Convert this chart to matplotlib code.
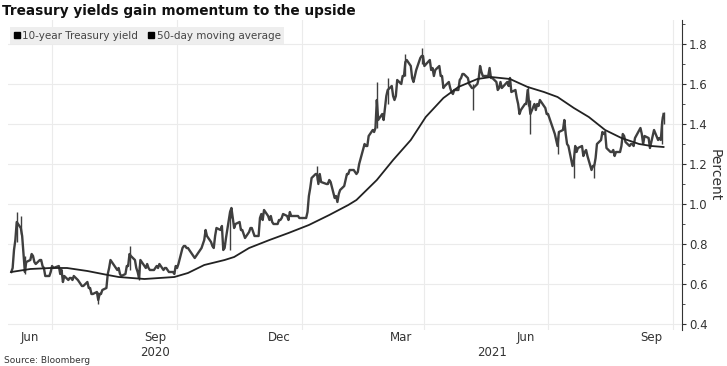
import matplotlib
matplotlib.use("Agg")
import matplotlib.pyplot as plt
from matplotlib.lines import Line2D
from matplotlib.ticker import MultipleLocator, FormatStrFormatter
import pandas as pd

# bond market holidays inside the window
holidays = [
    "2020-07-03", "2020-09-07", "2020-10-12", "2020-11-11", "2020-11-26",
    "2020-12-25", "2021-01-01", "2021-01-18", "2021-02-15", "2021-04-02",
    "2021-05-31", "2021-07-05", "2021-09-06",
]

# 10-year Treasury yield, daily close (%)
close_2020 = [
    # Jun
    0.66, 0.68, 0.77, 0.82, 0.91, 0.88, 0.84, 0.75, 0.66, 0.71, 0.72,
    0.75, 0.74, 0.71, 0.70, 0.72, 0.72, 0.69, 0.68, 0.64, 0.64, 0.66,
    # Jul
    0.69, 0.68, 0.69, 0.65, 0.67, 0.61, 0.64, 0.62, 0.63, 0.63, 0.62,
    0.64, 0.62, 0.61, 0.60, 0.59, 0.59, 0.61, 0.58, 0.58, 0.55, 0.55,
    # Aug
    0.56, 0.52, 0.55, 0.55, 0.57, 0.58, 0.65, 0.68, 0.72, 0.71, 0.68,
    0.67, 0.68, 0.65, 0.64, 0.65, 0.69, 0.69, 0.75, 0.74, 0.72,
    # Sep
    0.68, 0.66, 0.63, 0.72, 0.68, 0.70, 0.68, 0.67, 0.67, 0.68, 0.69,
    0.68, 0.70, 0.67, 0.68, 0.68, 0.67, 0.66, 0.66, 0.65, 0.69,
    # Oct
    0.68, 0.70, 0.78, 0.79, 0.79, 0.78, 0.78, 0.74, 0.73, 0.74, 0.75,
    0.78, 0.80, 0.82, 0.87, 0.84, 0.81, 0.79, 0.78, 0.84, 0.88,
    # Nov
    0.87, 0.89, 0.77, 0.78, 0.83, 0.96, 0.98, 0.88, 0.90, 0.91,
    0.87, 0.87, 0.85, 0.83, 0.86, 0.88, 0.88, 0.84, 0.84,
    # Dec
    0.93, 0.95, 0.92, 0.97, 0.94, 0.92, 0.94, 0.91, 0.90, 0.90, 0.92,
    0.92, 0.93, 0.95, 0.94, 0.92, 0.96, 0.94, 0.94, 0.94, 0.93, 0.93,
]
close_2021 = [
    # Jan
    0.93, 0.96, 1.04, 1.08, 1.13, 1.15, 1.15, 1.10, 1.15, 1.11,
    1.10, 1.10, 1.12, 1.11, 1.03, 1.04, 1.01, 1.05, 1.07,
    # Feb
    1.09, 1.12, 1.15, 1.15, 1.17, 1.17, 1.16, 1.15, 1.16, 1.20,
    1.30, 1.29, 1.29, 1.34, 1.37, 1.36, 1.38, 1.52, 1.42,
    # Mar
    1.45, 1.42, 1.48, 1.54, 1.57, 1.59, 1.54, 1.52, 1.54, 1.62, 1.60, 1.64,
    1.64, 1.71, 1.72, 1.69, 1.63, 1.61, 1.64, 1.67, 1.73, 1.74, 1.74,
    # Apr
    1.69, 1.72, 1.67, 1.68, 1.64, 1.67, 1.69, 1.64, 1.64, 1.58, 1.59,
    1.61, 1.58, 1.56, 1.55, 1.57, 1.57, 1.62, 1.63, 1.65, 1.65,
    # May
    1.63, 1.60, 1.59, 1.58, 1.58, 1.60, 1.63, 1.69, 1.66, 1.64,
    1.64, 1.64, 1.68, 1.63, 1.63, 1.61, 1.57, 1.58, 1.61, 1.58,
    # Jun
    1.61, 1.59, 1.63, 1.56, 1.57, 1.53, 1.50, 1.45, 1.47, 1.50, 1.50,
    1.57, 1.51, 1.45, 1.50, 1.47, 1.50, 1.49, 1.52, 1.49, 1.48, 1.45,
    # Jul
    1.45, 1.43, 1.35, 1.32, 1.29, 1.36, 1.37, 1.42, 1.35, 1.30, 1.29,
    1.19, 1.22, 1.29, 1.26, 1.28, 1.29, 1.24, 1.26, 1.27, 1.24,
    # Aug
    1.17, 1.19, 1.19, 1.23, 1.30, 1.32, 1.36, 1.35, 1.36, 1.28, 1.26,
    1.26, 1.27, 1.24, 1.26, 1.26, 1.29, 1.35, 1.34, 1.31, 1.29, 1.30,
    # Sep
    1.30, 1.29, 1.33, 1.38, 1.35, 1.30, 1.34, 1.33, 1.28,
    1.31, 1.34, 1.37, 1.32, 1.33, 1.32, 1.41, 1.45,
]

# days with wide intraday ranges
wick_dates = [
    "2020-06-05", "2020-06-08", "2020-06-11", "2020-08-04", "2020-08-27",
    "2020-09-03", "2020-11-09", "2020-11-10", "2021-01-12", "2021-02-25",
    "2021-03-05", "2021-03-18", "2021-03-30", "2021-05-07", "2021-06-16",
    "2021-06-18", "2021-07-08", "2021-07-20", "2021-08-04", "2021-09-23",
    "2021-09-24",
]
wick_low = [
    0.81, 0.85, 0.65, 0.50, 0.67, 0.62, 0.77, 0.93, 1.12, 1.38,
    1.50, 1.64, 1.70, 1.47, 1.49, 1.35, 1.25, 1.13, 1.13, 1.30, 1.40,
]
wick_high = [
    0.96, 0.94, 0.74, 0.56, 0.79, 0.69, 0.97, 0.98, 1.19, 1.61,
    1.63, 1.75, 1.78, 1.60, 1.59, 1.52, 1.34, 1.24, 1.19, 1.44, 1.46,
]

# 50-day moving average
ma_dates = [
    "2020-06-01", "2020-06-15", "2020-06-30", "2020-07-12", "2020-07-27",
    "2020-08-11", "2020-08-19", "2020-09-07", "2020-09-29", "2020-10-09",
    "2020-10-21", "2020-11-05", "2020-11-12", "2020-11-23", "2020-12-08",
    "2020-12-22", "2021-01-06", "2021-01-21", "2021-02-04", "2021-02-10",
    "2021-02-25", "2021-03-09", "2021-03-22", "2021-04-02", "2021-04-15",
    "2021-04-26", "2021-05-10", "2021-05-20", "2021-06-03", "2021-06-16",
    "2021-06-28", "2021-07-08", "2021-07-20", "2021-07-31", "2021-08-12",
    "2021-08-24", "2021-09-06", "2021-09-15", "2021-09-24",
]
ma_values = [
    0.660, 0.675, 0.680, 0.680, 0.665, 0.645, 0.635, 0.625, 0.635, 0.655,
    0.695, 0.720, 0.735, 0.780, 0.820, 0.855, 0.895, 0.945, 0.995, 1.020,
    1.120, 1.220, 1.320, 1.435, 1.530, 1.585, 1.625, 1.635, 1.625, 1.585,
    1.560, 1.535, 1.480, 1.435, 1.370, 1.330, 1.300, 1.290, 1.285,
]

month_labels = ["Jun", "Sep", "Dec", "Mar", "Jun", "Sep"]
month_label_dates = ["2020-06-15", "2020-09-15", "2020-12-15",
                     "2021-03-15", "2021-06-15", "2021-09-15"]
quarter_starts = ["2020-07-01", "2020-10-01", "2021-01-01",
                  "2021-04-01", "2021-07-01", "2021-10-01"]
year_labels = ["2020", "2021"]
y_ticks = [0.4, 0.6, 0.8, 1.0, 1.2, 1.4, 1.6, 1.8]

x_start = pd.Timestamp("2020-05-29 14:00")
x_end = pd.Timestamp("2021-10-07 14:00")

days = pd.bdate_range("2020-06-01", "2021-09-24", freq="C",
                      holidays=pd.to_datetime(holidays))
closes = close_2020 + close_2021
assert len(days) == len(closes), (len(days), len(closes))

fig = plt.figure(figsize=(7.27, 3.66), dpi=100)
ax = fig.add_axes([8 / 727, 1 - 330 / 366, 674 / 727, 310 / 366])

ax.plot(days, closes, color="#3f3f3f", lw=1.7, solid_joinstyle="round")
ax.vlines(pd.to_datetime(wick_dates), wick_low, wick_high, color="#3f3f3f", lw=1.0)
ax.plot(pd.to_datetime(ma_dates), ma_values, color="#222222", lw=1.3)

ax.set_xlim(x_start, x_end)
ax.set_ylim(0.37, 1.92)

for side in ["top", "left", "bottom"]:
    ax.spines[side].set_visible(False)
ax.spines["right"].set_color("#333333")
ax.spines["right"].set_linewidth(0.8)

ax.yaxis.tick_right()
ax.set_yticks(y_ticks)
ax.yaxis.set_major_formatter(FormatStrFormatter("%.1f"))
ax.yaxis.set_minor_locator(MultipleLocator(0.1))
ax.tick_params(axis="y", which="major", direction="out", length=3, width=0.8,
               colors="#333333", labelsize=8.5, pad=2)
ax.tick_params(axis="y", which="minor", direction="out", length=2, width=0.6,
               color="#333333")

ax.set_xticks(pd.to_datetime(quarter_starts))
ax.tick_params(axis="x", which="both", length=0, labelbottom=False)
ax.grid(which="major", color="#ebebeb", lw=0.8)
ax.set_axisbelow(True)

for lab, d in zip(month_labels, pd.to_datetime(month_label_dates)):
    ax.text(d, -0.024, lab, transform=ax.get_xaxis_transform(),
            ha="center", va="center", fontsize=8.5, color="#333333")

year_spans = [(x_start, pd.Timestamp("2021-01-01")), (pd.Timestamp("2021-01-01"), x_end)]
for lab, (a, b) in zip(year_labels, year_spans):
    ax.text(a + (b - a) / 2, -0.074, lab, transform=ax.get_xaxis_transform(),
            ha="center", va="center", fontsize=8.5, color="#333333")

handles = [
    Line2D([], [], marker="s", ls="none", color="black", markersize=5),
    Line2D([], [], marker="s", ls="none", color="black", markersize=5),
]
leg = ax.legend(handles, ["10-year Treasury yield", "50-day moving average"],
                loc="upper left", bbox_to_anchor=(0.003, 0.977), ncol=2,
                frameon=True, fancybox=False, facecolor="#eeeeee", edgecolor="none",
                framealpha=1, fontsize=7.5, handlelength=0.6, handletextpad=0.2,
                columnspacing=1.0, borderpad=0.35, borderaxespad=0)
for t in leg.get_texts():
    t.set_color("#444444")

fig.text(715 / 727, 1 - 175 / 366, "Percent", rotation=270, ha="center",
         va="center", fontsize=10, color="#333333")
fig.text(2 / 727, 1 - 11 / 366, "Treasury yields gain momentum to the upside",
         fontweight="bold", fontsize=9.8, va="center", ha="left", color="#111111")
fig.text(4 / 727, 1 / 366, "Source: Bloomberg", fontsize=6.5,
         va="bottom", ha="left", color="#333333")

fig.savefig("out.png", dpi=100)
plt.close(fig)
